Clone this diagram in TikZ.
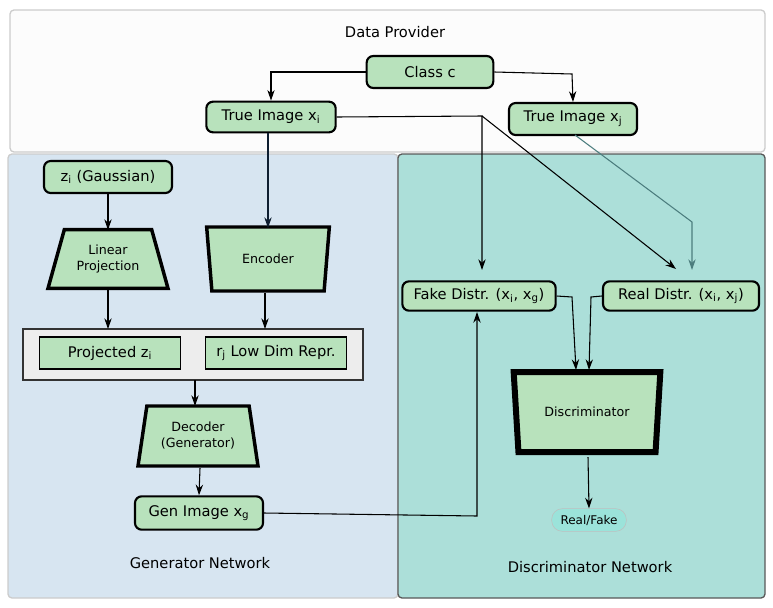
\documentclass[tikz,border=0pt]{standalone}
\usepackage{fontspec}
\setmainfont{DejaVu Sans}
\usetikzlibrary{arrows.meta, shapes.geometric}
\definecolor{boxgreen}{HTML}{B8E2BC}
\definecolor{genblue}{HTML}{D7E5F1}
\definecolor{disteal}{HTML}{ACDFD9}
\definecolor{outteal}{HTML}{9BE3DA}
\definecolor{lineteal}{HTML}{4C7D7E}
\definecolor{navy}{HTML}{0E1E30}
\tikzset{
  box/.style={draw, line width=1.6pt, rounded corners=5pt, fill=boxgreen, inner sep=0pt, font=\fontsize{11}{13}\selectfont},
  flat/.style={draw, line width=1.1pt, fill=boxgreen, inner sep=0pt, font=\fontsize{11}{13}\selectfont},
  trap/.style={trapezium, trapezium stretches body, draw, line width=2.6pt, fill=boxgreen, inner sep=0pt, align=center, font=\fontsize{9.5}{12}\selectfont},
  arr/.style={-{Stealth[length=8pt,width=5.5pt]}, line width=0.8pt},
  title/.style={font=\fontsize{11}{13}\selectfont}
}
\begin{document}
\begin{tikzpicture}[x=0.75pt, y=-0.75pt]
\useasboundingbox (0,0) rectangle (773,607);

% Backgrounds
\filldraw[draw=black!20, fill=white!99!black, line width=1pt, rounded corners=3pt] (10,10) rectangle (765,152);
\filldraw[draw=black!20, fill=genblue, line width=1pt, rounded corners=3pt] (8,154) rectangle (398,598);
\filldraw[draw=black!65, fill=disteal, line width=1pt, rounded corners=3pt] (398,154) rectangle (765,598);
\node[title] (dp) at (395,32) {Data Provider};
\node[title] (gn) at (200,563) {Generator Network};
\node[title] (dn) at (590,567) {Discriminator Network};

% Data provider
\node[box, minimum width=95pt, minimum height=24pt] (cls) at (430,72) {Class c};
\node[box, minimum width=97pt, minimum height=23pt] (xi) at (271,117) {True Image x\textsubscript{i}};
\node[box, minimum width=96pt, minimum height=24pt] (xj) at (573,119) {True Image x\textsubscript{j}};

% Generator
\node[box, minimum width=96pt, minimum height=24pt] (zi) at (108,177) {z\textsubscript{i} (Gaussian)};
\node[trap, trapezium left angle=60, trapezium right angle=60, minimum width=90pt, minimum height=44pt] (lin) at (108,259) {Linear\\Projection};
\node[trap, shape border rotate=180, trapezium left angle=62, trapezium right angle=62, minimum width=92pt, minimum height=48pt] (enc) at (268,259) {Encoder};
\filldraw[draw=black!80, fill=black!7, line width=1.4pt] (23,329) rectangle (363,380);
\coordinate (ctop1) at (108,329);
\coordinate (ctop2) at (265,329);
\coordinate (cbot) at (195,380);
\node[flat, minimum width=106pt, minimum height=24pt] (pz) at (110,353) {Projected z\textsubscript{i}};
\node[flat, minimum width=106pt, minimum height=24pt] (rj) at (276,353) {r\textsubscript{j} Low Dim Repr.};
\node[trap, trapezium left angle=72, trapezium right angle=72, minimum width=90pt, minimum height=45pt] (dec) at (198,436) {Decoder\\(Generator)};
\node[box, minimum width=96pt, minimum height=25pt] (gi) at (199,513) {Gen Image x\textsubscript{g}};

% Discriminator
\node[box, minimum width=115pt, minimum height=22pt] (fake) at (479,296) {Fake Distr. (x\textsubscript{i}, x\textsubscript{g})};
\node[box, minimum width=117pt, minimum height=22pt] (real) at (681,296) {Real Distr. (x\textsubscript{i}, x\textsubscript{j})};
\node[trap, shape border rotate=180, line width=4.5pt, trapezium left angle=64, trapezium right angle=64, minimum width=110pt, minimum height=60pt, font=\fontsize{9.5}{11}\selectfont] (dis) at (587,412) {Discriminator};
\node[draw=black!25, fill=outteal, rounded corners=8pt, minimum width=56pt, minimum height=17pt, inner sep=0pt, font=\fontsize{9}{10}\selectfont] (rf) at (589,520) {Real/Fake};

% Connectors
\coordinate (split) at (482,116);
\coordinate (fakein) at (477,312);
\draw[arr] (cls.west) -| (xi.north);
\draw[arr] (cls.east) -- (572,74) -- (xj.north);
\draw[arr] (xi.east) -- (split) -- (482,270);
\draw[arr] (split) -- (676,269);
\draw[arr, color=lineteal] (575,135) -- (692,222) -- (692,270);
\draw[arr, color=navy] (268,133) -- (268,228);
\draw[arr] (zi.south) -- (108,230);
\draw[arr] (108,290) -- (ctop1);
\draw[arr] (265,293) -- (ctop2);
\draw[arr] (cbot) -- (195,406);
\draw[arr] (200,468) -- (gi.north);
\draw[arr] (gi.east) -- (477,516) -- (fakein);
\draw[arr] (fake.east) -- (572,297) -- (576,370);
\draw[arr] (real.west) -- (591,297) -- (589,370);
\draw[arr] (588,457) -- (rf.north);

\end{tikzpicture}
\end{document}
